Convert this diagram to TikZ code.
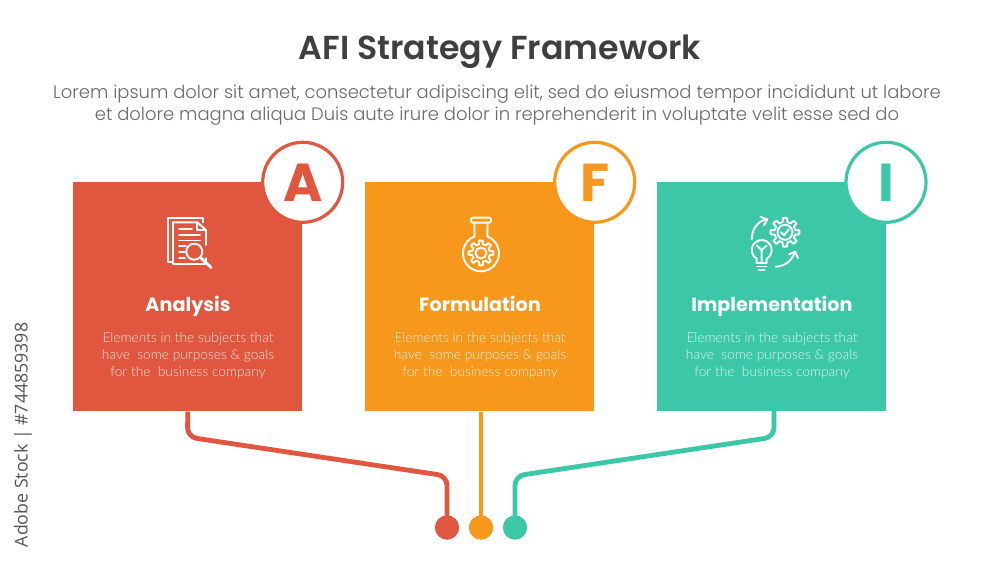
\documentclass[tikz,border=0pt]{standalone}
\usepackage{fontspec}
\setmainfont{Lato}
\newfontfamily\poplight{Poppins}[UprightFont=* Light,BoldFont=* SemiBold]
\newfontfamily\popbold{Poppins}[UprightFont=* Bold]
\newfontfamily\latolight{Lato}[UprightFont=* Light]
\newfontfamily\sidefont{Open Sans}
\definecolor{cred}{HTML}{E1563F}
\definecolor{corange}{HTML}{F7981D}
\definecolor{cteal}{HTML}{3CC7A8}
\definecolor{ctitle}{HTML}{3F3F3F}
\definecolor{csub}{HTML}{6A6A6A}
\tikzset{
  panel/.style={fill=#1,draw=none,minimum width=171.75pt,minimum height=171.75pt,inner sep=0pt,anchor=north west},
  badge/.style={circle,fill=white,draw=#1,line width=2.4pt,minimum size=60pt,inner sep=0pt,text=#1,font=\popbold\fontsize{40}{40}\selectfont},
  dot/.style={circle,fill=#1,draw=none,minimum size=18pt,inner sep=0pt},
  link/.style={draw=#1,line width=3.6pt,rounded corners=7pt},
  heading/.style={anchor=base,text=white,font=\popbold\fontsize{14.4}{16}\selectfont},
  bodytext/.style={text=white,text opacity=.85,align=center,font=\latolight\fontsize{10.3}{12.75}\selectfont},
  ic/.style={draw=white,line width=1.45pt,line join=round,line cap=round},
}
\begin{document}
\begin{tikzpicture}[x=0.75pt,y=-0.75pt]
\useasboundingbox[fill=white] (0,0) rectangle (1000,563);
\node[panel=cred] (boxA) at (73,182) {};
\node[panel=corange] (boxF) at (365,182) {};
\node[panel=cteal] (boxI) at (657,182) {};
\node[dot=cred] (dotA) at (447,527.5) {};
\node[dot=corange] (dotF) at (481,527.5) {};
\node[dot=cteal] (dotI) at (515,527.5) {};
\coordinate (a1) at (187.5,437);
\coordinate (a2) at (447,476);
\coordinate (i0) at (774,411);
\coordinate (i1) at (774,437);
\coordinate (i2) at (515,476);
\draw[link=cred] (boxA.south) -- (a1) -- (a2) -- (dotA.center);
\draw[link=corange] (dotF.center) -- (dotF |- boxF.south);
\draw[link=cteal] (i0) -- (i1) -- (i2) -- (dotI.center);
\node[dot=cred] at (dotA) {};
\node[dot=corange] at (dotF) {};
\node[dot=cteal] at (dotI) {};
\node[badge=cred] (cA) at (302.7,182.3) {A};
\node[badge=corange] (cF) at (594.7,182.3) {F};
\node[badge=cteal] (cI) at (886,182.3) {I};
% title
\node[anchor=base,text=ctitle,font=\poplight\bfseries\fontsize{24.9}{28}\selectfont] (title) at (500,59.5) {AFI Strategy Framework};
\node[text=csub,font=\poplight\fontsize{13.47}{16.5}\selectfont,align=center] (sub) at (497,105) {Lorem ipsum dolor sit amet, consectetur adipiscing elit, sed do eiusmod tempor incididunt ut labore\\et dolore magna aliqua Duis aute irure dolor in reprehenderit in voluptate velit esse sed do};
% labels
\node[heading] (hA) at (188,311.5) {Analysis};
\node[heading] (hF) at (480,311.5) {Formulation};
\node[heading] (hI) at (772,311.5) {Implementation};
\node[bodytext] (tA) at (188,356) {Elements in the subjects that\\have\ \ some purposes \& goals\\for the\ \ business company};
\node[bodytext] (tF) at (480,356) {Elements in the subjects that\\have\ \ some purposes \& goals\\for the\ \ business company};
\node[bodytext] (tI) at (772,356) {Elements in the subjects that\\have\ \ some purposes \& goals\\for the\ \ business company};
% document icon
\draw[ic] (172.7,261.7) -- (168.3,261.7) -- (168.3,218.3) -- (203,218.3) -- (203,222.3);
\draw[ic] (172.7,222.3) -- (197.3,222.3) -- (206,230) -- (206,245);
\draw[ic] (206,258) -- (206,264.3) -- (172.7,264.3) -- (172.7,222.3);
\draw[ic] (197.3,222.3) -- (197.3,230) -- (206,230);
\draw[ic] (179,229) -- (192,229) (179,235) -- (200,235) (179,240.5) -- (200,240.5) (179,246) -- (186,246) (179,252) -- (185,252) (179,258) -- (185,258);
\draw[ic,fill=cred] (194.3,251.7) circle (8);
\draw[ic,line width=2.2pt] (200.5,257.5) -- (211,267.5);
% flask icon
\draw[ic,rounded corners=1.5pt] (471,217.7) rectangle (491,222.7);
\draw[ic] (474.5,222.7) -- (474.5,236.5) arc[start angle=-111,end angle=-429,radius=18] -- (487.5,222.7);
\begin{scope}[shift={(481,253)}]
\draw[ic] ({-13}:9) \foreach \a in {0,45,...,315}{ -- ({\a-13}:9) -- ({\a-8}:12.5) -- ({\a+8}:12.5) -- ({\a+13}:9) } -- cycle;
\draw[ic] (0,0) circle (5.5);
\end{scope}
% implementation icon
\begin{scope}[shift={(785,232.3)}]
\draw[ic] ({-13}:10.5) \foreach \a in {0,45,...,315}{ -- ({\a-13}:10.5) -- ({\a-8}:14.5) -- ({\a+8}:14.5) -- ({\a+13}:10.5) } -- cycle;
\draw[ic] (0,0) circle (7.5);
\draw[ic] (-4,0) -- (-1,3) -- (4,-3);
\end{scope}
\draw[ic] (756.7,263) -- (756.7,258.7) arc[start angle=120,end angle=420,radius=10] -- (766.7,263) -- cycle;
\draw[ic] (756.7,266.5) -- (766.7,266.5) (758.7,270) -- (764.7,270);
\draw[ic] (761.7,263) -- (761.7,250) (756.7,245.5) -- (761.7,250) -- (766.7,245.5);
\draw[ic] (751.7,239.3) .. controls (752,228) and (758,221) .. (767.3,219.3);
\draw[ic] (760.5,217) -- (767.3,219.3) -- (764,225.5);
\draw[ic] (775.7,266.7) .. controls (785,266) and (792,261) .. (795,251.7);
\draw[ic] (789,254.5) -- (795,251.7) -- (798,258);
% side label
\node[rotate=90,text=csub!80!black,font=\sidefont\fontsize{13.3}{14}\selectfont] (side) at (23,435) {Adobe Stock | \#744859398};
\end{tikzpicture}
\end{document}
